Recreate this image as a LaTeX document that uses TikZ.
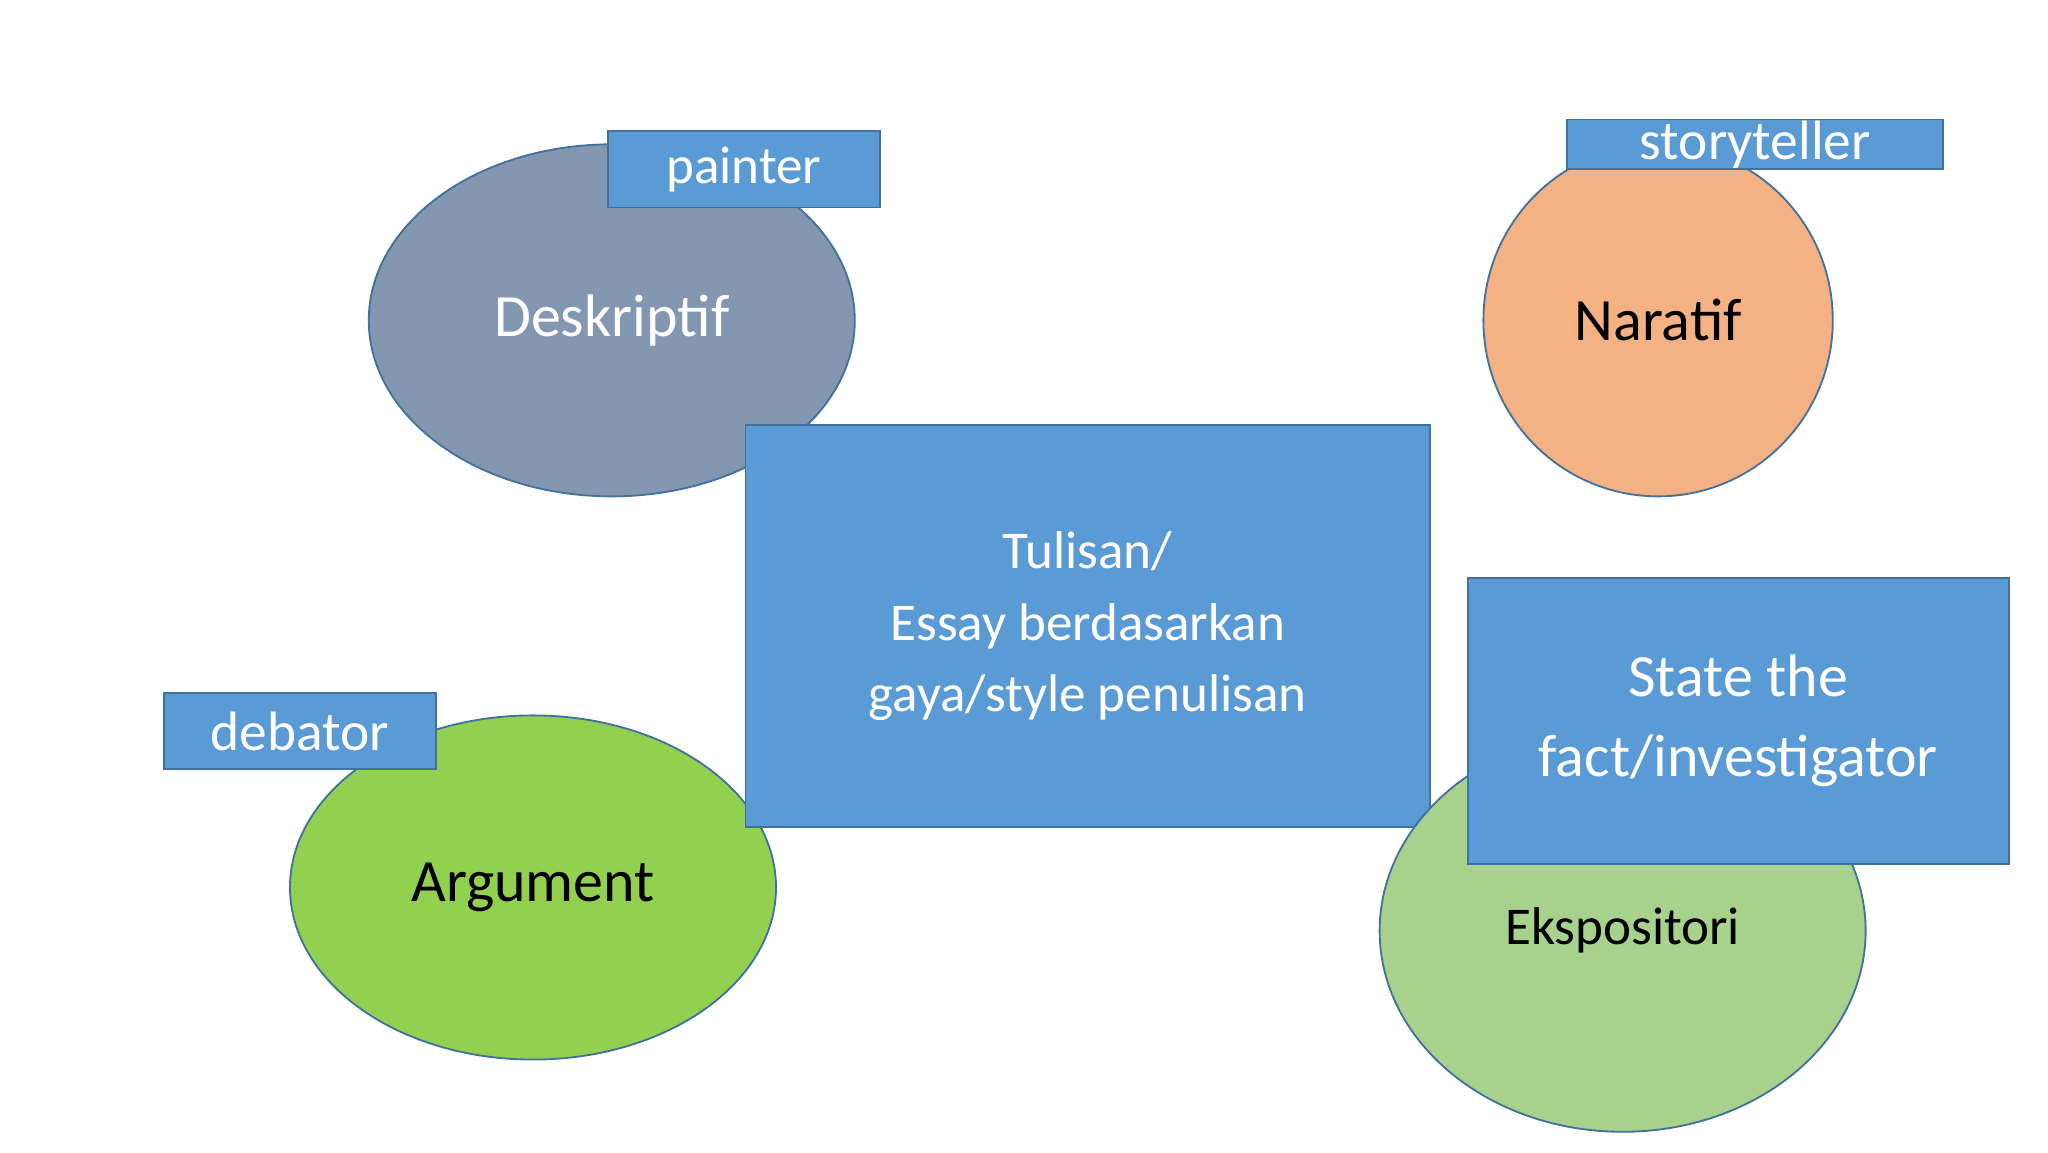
\documentclass[tikz,border=0pt]{standalone}
\usepackage{fontspec}
\setmainfont{Carlito}
\usetikzlibrary{shapes.geometric}
\definecolor{edgeblue}{HTML}{41719C}
\definecolor{boxblue}{HTML}{5B9BD5}
\definecolor{greyblue}{HTML}{8497B0}
\definecolor{peach}{HTML}{F4B183}
\definecolor{lime}{HTML}{92D050}
\definecolor{sage}{HTML}{A9D18E}
\begin{document}
\begin{tikzpicture}[x=0.01cm,y=-0.01cm,
    blob/.style={ellipse,draw=edgeblue,line width=0.4pt,inner sep=0pt},
    tag/.style={rectangle,draw=edgeblue,fill=boxblue,line width=0.4pt,text=white,inner sep=0pt}]
    \useasboundingbox (0,0) rectangle (1560,877.5);
    % Deskriptif
    \node[blob,fill=greyblue,minimum width=370\pgflinewidth*0+3.7cm,minimum height=2.68cm,text=white,font=\fontsize{13}{15}\selectfont] (deskriptif) at (466,244) {Deskriptif};
    \node[tag,minimum width=2.07cm,minimum height=0.58cm,font=\fontsize{11.5}{13}\selectfont] (painter) at (566.5,129) {painter};
    % Naratif
    \node[blob,fill=peach,minimum width=2.66cm,minimum height=2.68cm,font=\fontsize{13}{15}\selectfont] (naratif) at (1263,244) {Naratif};
    \node[tag,minimum width=2.86cm,minimum height=0.38cm,font=\fontsize{12}{14}\selectfont] (storyteller) at (1337,110) {storyteller};
    % Argument
    \node[blob,fill=lime,minimum width=3.7cm,minimum height=2.62cm,font=\fontsize{13}{15}\selectfont] (argument) at (406,676) {Argument};
    \node[tag,minimum width=2.07cm,minimum height=0.58cm,font=\fontsize{12}{14}\selectfont] (debator) at (228.5,557) {debator};
    % Tulisan
    \node[tag,minimum width=5.21cm,minimum height=3.06cm,align=center,font=\fontsize{11.5}{15.5}\selectfont] (tulisan) at (828.5,477) {Tulisan/\\Essay berdasarkan\\gaya/style penulisan};
    % Ekspositori
    \node[blob,fill=sage,minimum width=3.7cm,minimum height=3.06cm,font=\fontsize{11.5}{13}\selectfont] (ekspositori) at (1236,709) {Ekspositori};
    \node[tag,minimum width=4.12cm,minimum height=2.18cm,align=center,font=\fontsize{13}{17.5}\selectfont] (fact) at (1324,549) {State the\\fact/investigator};
\end{tikzpicture}
\end{document}
